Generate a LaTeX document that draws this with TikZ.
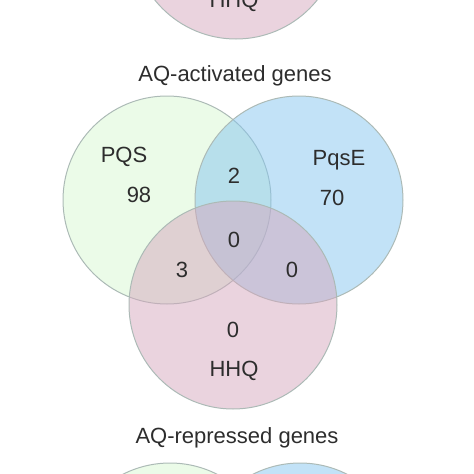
\documentclass[tikz,border=0pt]{standalone}
\usepackage{fontspec}
\setmainfont{Liberation Sans}
\usetikzlibrary{positioning}
\definecolor{pqsgreen}{RGB}{215,247,209}
\definecolor{pqseblue}{RGB}{133,197,239}
\definecolor{hhqpink}{RGB}{213,167,189}
\definecolor{venngrey}{RGB}{172,186,182}
\definecolor{labelgrey}{RGB}{45,45,45}

\begin{document}
\begin{tikzpicture}[
  x=1pt, y=-1pt,
  font=\fontsize{22}{26}\selectfont,
  setc/.style={
    circle, draw=venngrey, line width=1pt,
    fill opacity=0.5, draw opacity=1,
    minimum size=208pt, inner sep=0pt
  },
  lbl/.style={anchor=base, text=labelgrey, inner sep=0pt}
]
\useasboundingbox (0,0) rectangle (474,474);
\clip (0,0) rectangle (474,474);

% previous diagram (cut off at the top)
\node[setc, fill=hhqpink] (hhqtop) at (236,-65) {};
\node[lbl] (hhqtoplbl) at (234,7) {HHQ};

% AQ-activated genes
\node[lbl] (acttitle) at (235,81) {AQ-activated genes};

\node[setc, fill=pqsgreen] (pqs) at (167,200) {};
\node[setc, fill=pqseblue] (pqse) at (299,200) {};
\node[setc, fill=hhqpink] (hhq) at (233,305) {};

\node[lbl] (pqslbl) at (124,162) {PQS};
\node[lbl] (pqselbl) at (339,165) {PqsE};
\node[lbl] (hhqlbl) at (234,376) {HHQ};

\node[lbl] (nPqs) at (139,202) {98};
\node[lbl] (nPqse) at (332,205) {70};
\node[lbl] (nHhq) at (233,337) {0};
\node[lbl] (nPqsPqse) at (234,183) {2};
\node[lbl] (nPqsHhq) at (182,277) {3};
\node[lbl] (nPqseHhq) at (292,277) {0};
\node[lbl] (nAll) at (234,247) {0};

% AQ-repressed genes (cut off at the bottom)
\node[lbl] (reptitle) at (237,443) {AQ-repressed genes};

\node[setc, fill=pqsgreen] (pqsrep) at (170,567) {};
\node[setc, fill=pqseblue] (pqserep) at (300,567) {};

\end{tikzpicture}
\end{document}
